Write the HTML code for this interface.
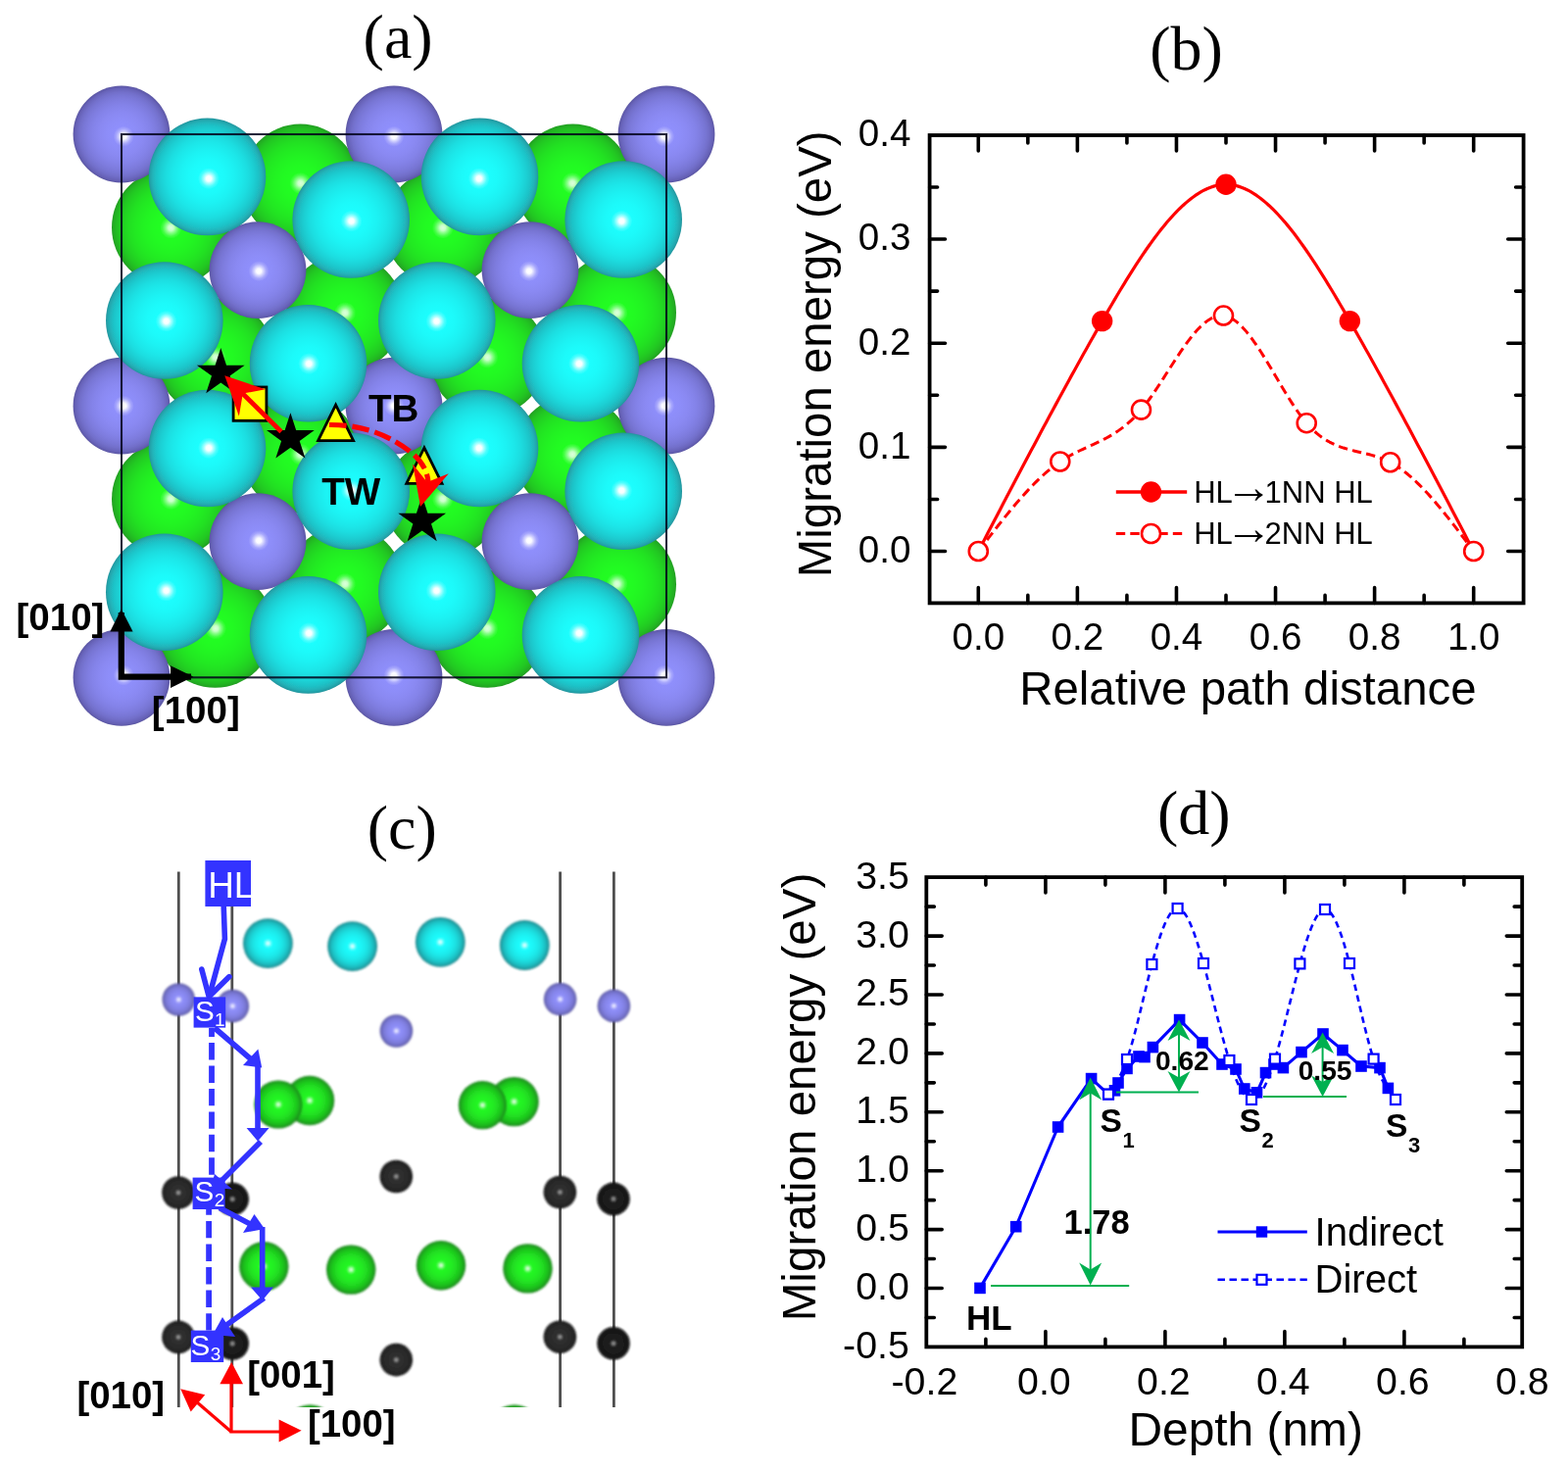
<!DOCTYPE html>
<html lang="en"><head><meta charset="utf-8"><title>Migration paths and energies</title>
<style>html,body{margin:0;padding:0;background:#fff}svg{display:block}text{font-family:"Liberation Sans", sans-serif;fill:#000}.serif{font-family:"Liberation Serif", serif}.b{font-weight:bold}</style></head><body>
<svg width="1600" height="1500" viewBox="0 0 1600 1500" role="img" aria-label="Four-panel figure: migration paths and migration energies">
<defs><radialGradient id="gC" cx="0.5" cy="0.5" r="0.5" fx="0.5" fy="0.5"><stop offset="0" stop-color="rgb(28,255,255)"/><stop offset="0.15" stop-color="rgb(28,254,254)"/><stop offset="0.3" stop-color="rgb(28,250,250)"/><stop offset="0.45" stop-color="rgb(29,242,243)"/><stop offset="0.6" stop-color="rgb(29,231,233)"/><stop offset="0.7" stop-color="rgb(30,221,224)"/><stop offset="0.8" stop-color="rgb(30,207,211)"/><stop offset="0.87" stop-color="rgb(31,195,200)"/><stop offset="0.93" stop-color="rgb(32,180,186)"/><stop offset="0.97" stop-color="rgb(33,165,172)"/><stop offset="1" stop-color="rgb(33,148,157)"/></radialGradient><radialGradient id="gG" cx="0.5" cy="0.5" r="0.5" fx="0.5" fy="0.5"><stop offset="0" stop-color="rgb(36,255,36)"/><stop offset="0.15" stop-color="rgb(36,254,36)"/><stop offset="0.3" stop-color="rgb(36,250,36)"/><stop offset="0.45" stop-color="rgb(36,243,36)"/><stop offset="0.6" stop-color="rgb(36,233,36)"/><stop offset="0.7" stop-color="rgb(36,224,36)"/><stop offset="0.8" stop-color="rgb(36,211,36)"/><stop offset="0.87" stop-color="rgb(36,200,36)"/><stop offset="0.93" stop-color="rgb(36,186,36)"/><stop offset="0.97" stop-color="rgb(36,172,36)"/><stop offset="1" stop-color="rgb(36,157,36)"/></radialGradient><radialGradient id="gP" cx="0.5" cy="0.5" r="0.5" fx="0.5" fy="0.5"><stop offset="0" stop-color="rgb(144,144,253)"/><stop offset="0.15" stop-color="rgb(143,143,252)"/><stop offset="0.3" stop-color="rgb(141,141,248)"/><stop offset="0.45" stop-color="rgb(138,137,242)"/><stop offset="0.6" stop-color="rgb(132,131,233)"/><stop offset="0.7" stop-color="rgb(127,125,224)"/><stop offset="0.8" stop-color="rgb(120,118,213)"/><stop offset="0.87" stop-color="rgb(114,111,202)"/><stop offset="0.93" stop-color="rgb(106,102,189)"/><stop offset="0.97" stop-color="rgb(99,94,177)"/><stop offset="1" stop-color="rgb(90,85,162)"/></radialGradient><radialGradient id="hW" cx="0.5" cy="0.5" r="0.5"><stop offset="0" stop-color="#fff" stop-opacity="1"/><stop offset="0.24" stop-color="#fff" stop-opacity="0.96"/><stop offset="0.45" stop-color="#fff" stop-opacity="0.62"/><stop offset="0.72" stop-color="#fff" stop-opacity="0.22"/><stop offset="1" stop-color="#fff" stop-opacity="0"/></radialGradient><radialGradient id="hG" cx="0.5" cy="0.5" r="0.5"><stop offset="0" stop-color="#e6ffe6" stop-opacity="0.95"/><stop offset="0.25" stop-color="#e6ffe6" stop-opacity="0.85"/><stop offset="0.5" stop-color="#e6ffe6" stop-opacity="0.5"/><stop offset="0.78" stop-color="#e6ffe6" stop-opacity="0.16"/><stop offset="1" stop-color="#e6ffe6" stop-opacity="0"/></radialGradient><radialGradient id="cC" cx="0.5" cy="0.5" r="0.5" fx="0.5" fy="0.5"><stop offset="0" stop-color="rgb(255,255,255)"/><stop offset="0.04" stop-color="rgb(228,255,255)"/><stop offset="0.07" stop-color="rgb(141,255,255)"/><stop offset="0.18" stop-color="rgb(28,253,253)"/><stop offset="0.3" stop-color="rgb(28,248,249)"/><stop offset="0.45" stop-color="rgb(28,239,240)"/><stop offset="0.6" stop-color="rgb(28,226,227)"/><stop offset="0.7" stop-color="rgb(27,213,215)"/><stop offset="0.8" stop-color="rgb(27,196,199)"/><stop offset="0.87" stop-color="rgb(27,180,184)"/><stop offset="0.93" stop-color="rgb(27,162,166)"/><stop offset="0.97" stop-color="rgb(26,144,148)"/><stop offset="1" stop-color="rgb(26,123,128)"/></radialGradient><radialGradient id="cG" cx="0.5" cy="0.5" r="0.5" fx="0.5" fy="0.5"><stop offset="0" stop-color="rgb(255,255,255)"/><stop offset="0.04" stop-color="rgb(228,254,228)"/><stop offset="0.07" stop-color="rgb(144,252,144)"/><stop offset="0.18" stop-color="rgb(34,248,34)"/><stop offset="0.3" stop-color="rgb(34,243,34)"/><stop offset="0.45" stop-color="rgb(33,235,33)"/><stop offset="0.6" stop-color="rgb(32,221,32)"/><stop offset="0.7" stop-color="rgb(31,209,31)"/><stop offset="0.8" stop-color="rgb(30,192,30)"/><stop offset="0.87" stop-color="rgb(29,177,29)"/><stop offset="0.93" stop-color="rgb(28,159,28)"/><stop offset="0.97" stop-color="rgb(26,141,26)"/><stop offset="1" stop-color="rgb(25,120,25)"/></radialGradient><radialGradient id="cP" cx="0.5" cy="0.5" r="0.5" fx="0.5" fy="0.5"><stop offset="0" stop-color="rgb(255,255,255)"/><stop offset="0.05" stop-color="rgb(242,242,255)"/><stop offset="0.1" stop-color="rgb(199,199,253)"/><stop offset="0.24" stop-color="rgb(142,142,249)"/><stop offset="0.3" stop-color="rgb(141,141,247)"/><stop offset="0.45" stop-color="rgb(137,137,240)"/><stop offset="0.6" stop-color="rgb(131,130,230)"/><stop offset="0.7" stop-color="rgb(126,125,221)"/><stop offset="0.8" stop-color="rgb(118,117,208)"/><stop offset="0.87" stop-color="rgb(112,110,196)"/><stop offset="0.93" stop-color="rgb(104,101,182)"/><stop offset="0.97" stop-color="rgb(96,93,169)"/><stop offset="1" stop-color="rgb(86,83,153)"/></radialGradient><radialGradient id="cK" cx="0.5" cy="0.5" r="0.5" fx="0.5" fy="0.5"><stop offset="0" stop-color="rgb(190,190,190)"/><stop offset="0.04" stop-color="rgb(173,173,173)"/><stop offset="0.08" stop-color="rgb(119,119,119)"/><stop offset="0.2" stop-color="rgb(47,47,47)"/><stop offset="0.3" stop-color="rgb(47,47,47)"/><stop offset="0.45" stop-color="rgb(45,45,45)"/><stop offset="0.6" stop-color="rgb(43,43,43)"/><stop offset="0.7" stop-color="rgb(41,41,41)"/><stop offset="0.8" stop-color="rgb(38,38,38)"/><stop offset="0.87" stop-color="rgb(35,35,35)"/><stop offset="0.93" stop-color="rgb(32,32,32)"/><stop offset="0.97" stop-color="rgb(28,28,28)"/><stop offset="1" stop-color="rgb(25,25,25)"/></radialGradient><radialGradient id="cK2" cx="0.5" cy="0.5" r="0.5" fx="0.5" fy="0.5"><stop offset="0" stop-color="rgb(190,190,190)"/><stop offset="0.04" stop-color="rgb(171,171,171)"/><stop offset="0.08" stop-color="rgb(110,110,110)"/><stop offset="0.2" stop-color="rgb(30,30,30)"/><stop offset="0.3" stop-color="rgb(29,29,29)"/><stop offset="0.45" stop-color="rgb(28,28,28)"/><stop offset="0.6" stop-color="rgb(26,26,26)"/><stop offset="0.7" stop-color="rgb(25,25,25)"/><stop offset="0.8" stop-color="rgb(23,23,23)"/><stop offset="0.87" stop-color="rgb(21,21,21)"/><stop offset="0.93" stop-color="rgb(19,19,19)"/><stop offset="0.97" stop-color="rgb(16,16,16)"/><stop offset="1" stop-color="rgb(14,14,14)"/></radialGradient>
<clipPath id="clipC"><rect x="100" y="880" width="600" height="556"/></clipPath>
<filter id="soft" x="-5%" y="-5%" width="110%" height="110%"><feGaussianBlur stdDeviation="0.6"/></filter>
<filter id="softC" x="-5%" y="-5%" width="110%" height="110%"><feGaussianBlur stdDeviation="0.9"/></filter>
</defs>
<rect x="0" y="0" width="1600" height="1500" fill="#fff"/>
<text class="serif" x="406.1" y="58.95" font-size="64" text-anchor="middle">(a)</text>
<text class="serif" x="1210.6" y="71.2" font-size="64" text-anchor="middle">(b)</text>
<text class="serif" x="410.3" y="865.95" font-size="64" text-anchor="middle">(c)</text>
<text class="serif" x="1218.3" y="850.95" font-size="64" text-anchor="middle">(d)</text>
<g id="panel-a">
<g filter="url(#soft)">
<circle cx="174" cy="232.07" r="60" fill="url(#gG)"/>
<circle cx="174.46" cy="232.44" r="11" fill="url(#hG)"/>
<circle cx="306.5" cy="186.57" r="60" fill="url(#gG)"/>
<circle cx="306.69" cy="187.03" r="11" fill="url(#hG)"/>
<circle cx="352" cy="319.07" r="60" fill="url(#gG)"/>
<circle cx="352.1" cy="319.26" r="11" fill="url(#hG)"/>
<circle cx="219.5" cy="364.57" r="60" fill="url(#gG)"/>
<circle cx="219.87" cy="364.67" r="11" fill="url(#hG)"/>
<circle cx="452" cy="232.07" r="60" fill="url(#gG)"/>
<circle cx="451.9" cy="232.44" r="11" fill="url(#hG)"/>
<circle cx="584.5" cy="186.57" r="60" fill="url(#gG)"/>
<circle cx="584.13" cy="187.03" r="11" fill="url(#hG)"/>
<circle cx="630" cy="319.07" r="60" fill="url(#gG)"/>
<circle cx="629.54" cy="319.26" r="11" fill="url(#hG)"/>
<circle cx="497.5" cy="364.57" r="60" fill="url(#gG)"/>
<circle cx="497.31" cy="364.67" r="11" fill="url(#hG)"/>
<circle cx="174" cy="509.22" r="60" fill="url(#gG)"/>
<circle cx="174.46" cy="509.03" r="11" fill="url(#hG)"/>
<circle cx="306.5" cy="463.72" r="60" fill="url(#gG)"/>
<circle cx="306.69" cy="463.63" r="11" fill="url(#hG)"/>
<circle cx="352" cy="596.22" r="60" fill="url(#gG)"/>
<circle cx="352.1" cy="595.86" r="11" fill="url(#hG)"/>
<circle cx="219.5" cy="641.72" r="60" fill="url(#gG)"/>
<circle cx="219.87" cy="641.27" r="11" fill="url(#hG)"/>
<circle cx="452" cy="509.22" r="60" fill="url(#gG)"/>
<circle cx="451.9" cy="509.03" r="11" fill="url(#hG)"/>
<circle cx="584.5" cy="463.72" r="60" fill="url(#gG)"/>
<circle cx="584.13" cy="463.63" r="11" fill="url(#hG)"/>
<circle cx="630" cy="596.22" r="60" fill="url(#gG)"/>
<circle cx="629.54" cy="595.86" r="11" fill="url(#hG)"/>
<circle cx="497.5" cy="641.72" r="60" fill="url(#gG)"/>
<circle cx="497.31" cy="641.27" r="11" fill="url(#hG)"/>
<circle cx="124" cy="137" r="49.4" fill="url(#gP)"/>
<circle cx="126.22" cy="139.22" r="10.5" fill="url(#hW)"/>
<circle cx="402" cy="137" r="49.4" fill="url(#gP)"/>
<circle cx="402" cy="139.22" r="10.5" fill="url(#hW)"/>
<circle cx="680" cy="137" r="49.4" fill="url(#gP)"/>
<circle cx="677.78" cy="139.22" r="10.5" fill="url(#hW)"/>
<circle cx="124" cy="414.15" r="49.4" fill="url(#gP)"/>
<circle cx="126.22" cy="414.15" r="10.5" fill="url(#hW)"/>
<circle cx="402" cy="414.15" r="49.4" fill="url(#gP)"/>
<circle cx="402" cy="414.15" r="10.5" fill="url(#hW)"/>
<circle cx="680" cy="414.15" r="49.4" fill="url(#gP)"/>
<circle cx="677.78" cy="414.15" r="10.5" fill="url(#hW)"/>
<circle cx="124" cy="691.3" r="49.4" fill="url(#gP)"/>
<circle cx="126.22" cy="689.08" r="10.5" fill="url(#hW)"/>
<circle cx="402" cy="691.3" r="49.4" fill="url(#gP)"/>
<circle cx="402" cy="689.08" r="10.5" fill="url(#hW)"/>
<circle cx="680" cy="691.3" r="49.4" fill="url(#gP)"/>
<circle cx="677.78" cy="689.08" r="10.5" fill="url(#hW)"/>
<circle cx="263" cy="275.57" r="49.4" fill="url(#gP)"/>
<circle cx="264.11" cy="276.68" r="10.5" fill="url(#hW)"/>
<circle cx="541" cy="275.57" r="49.4" fill="url(#gP)"/>
<circle cx="539.89" cy="276.68" r="10.5" fill="url(#hW)"/>
<circle cx="263" cy="552.72" r="49.4" fill="url(#gP)"/>
<circle cx="264.11" cy="551.62" r="10.5" fill="url(#hW)"/>
<circle cx="541" cy="552.72" r="49.4" fill="url(#gP)"/>
<circle cx="539.89" cy="551.62" r="10.5" fill="url(#hW)"/>
<circle cx="358.2" cy="224.07" r="59.8" fill="url(#gC)"/>
<circle cx="358.55" cy="225.59" r="11" fill="url(#hW)"/>
<circle cx="314.5" cy="370.77" r="59.8" fill="url(#gC)"/>
<circle cx="315.2" cy="371.12" r="11" fill="url(#hW)"/>
<circle cx="167.8" cy="327.07" r="59.8" fill="url(#gC)"/>
<circle cx="169.67" cy="327.77" r="11" fill="url(#hW)"/>
<circle cx="211.5" cy="180.38" r="59.8" fill="url(#gC)"/>
<circle cx="213.02" cy="182.24" r="11" fill="url(#hW)"/>
<circle cx="636.2" cy="224.07" r="59.8" fill="url(#gC)"/>
<circle cx="634.33" cy="225.59" r="11" fill="url(#hW)"/>
<circle cx="592.5" cy="370.77" r="59.8" fill="url(#gC)"/>
<circle cx="590.98" cy="371.12" r="11" fill="url(#hW)"/>
<circle cx="445.8" cy="327.07" r="59.8" fill="url(#gC)"/>
<circle cx="445.45" cy="327.77" r="11" fill="url(#hW)"/>
<circle cx="489.5" cy="180.38" r="59.8" fill="url(#gC)"/>
<circle cx="488.8" cy="182.24" r="11" fill="url(#hW)"/>
<circle cx="358.2" cy="501.22" r="59.8" fill="url(#gC)"/>
<circle cx="358.55" cy="500.53" r="11" fill="url(#hW)"/>
<circle cx="314.5" cy="647.92" r="59.8" fill="url(#gC)"/>
<circle cx="315.2" cy="646.05" r="11" fill="url(#hW)"/>
<circle cx="167.8" cy="604.22" r="59.8" fill="url(#gC)"/>
<circle cx="169.67" cy="602.7" r="11" fill="url(#hW)"/>
<circle cx="211.5" cy="457.52" r="59.8" fill="url(#gC)"/>
<circle cx="213.02" cy="457.18" r="11" fill="url(#hW)"/>
<circle cx="636.2" cy="501.22" r="59.8" fill="url(#gC)"/>
<circle cx="634.33" cy="500.53" r="11" fill="url(#hW)"/>
<circle cx="592.5" cy="647.92" r="59.8" fill="url(#gC)"/>
<circle cx="590.98" cy="646.05" r="11" fill="url(#hW)"/>
<circle cx="445.8" cy="604.22" r="59.8" fill="url(#gC)"/>
<circle cx="445.45" cy="602.7" r="11" fill="url(#hW)"/>
<circle cx="489.5" cy="457.52" r="59.8" fill="url(#gC)"/>
<circle cx="488.8" cy="457.18" r="11" fill="url(#hW)"/>
</g>
<rect x="124" y="137" width="556" height="554.3" fill="none" stroke="#02021a" stroke-opacity="0.86" stroke-width="2.1"/>
<rect x="238.1" y="395" width="33.8" height="34.3" fill="#ffff00" stroke="#000" stroke-width="2.8"/>
<polygon points="342.6,413.2 324.6,449.6 360.6,449.6" fill="#ffff00" stroke="#000" stroke-width="2.8" stroke-linejoin="miter"/>
<polygon points="432.9,457 414.8,493.3 451,493.3" fill="#ffff00" stroke="#000" stroke-width="2.8" stroke-linejoin="miter"/>
<polygon points="225.3,355 231.05,372.69 249.65,372.69 234.6,383.62 240.35,401.31 225.3,390.38 210.25,401.31 216,383.62 200.95,372.69 219.55,372.69" fill="#000"/>
<polygon points="296.4,421.3 302.15,438.99 320.75,438.99 305.7,449.92 311.45,467.61 296.4,456.68 281.35,467.61 287.1,449.92 272.05,438.99 290.65,438.99" fill="#000"/>
<polygon points="430.7,506 436.45,523.69 455.05,523.69 440,534.62 445.75,552.31 430.7,541.38 415.65,552.31 421.4,534.62 406.35,523.69 424.95,523.69" fill="#000"/>
<line x1="287" y1="440.5" x2="247" y2="401" stroke="#ff0000" stroke-width="4.8"/>
<polygon points="229.3,383.3 270.93,397.36 247.8,401.57 243.87,424.75" fill="#ff0000"/>
<path d="M336,433.5 C372,433 400,446 420,462 C430,470 436,480 437,492" fill="none" stroke="#ff0000" stroke-width="5.2" stroke-dasharray="17.5 6"/>
<polygon points="429,517 421.14,473.42 435.81,491.91 457.81,483.37" fill="#ff0000"/>
<text class="b" x="376" y="430.4" font-size="38.6">TB</text>
<text class="b" x="328.3" y="515.4" font-size="38.6">TW</text>
<path d="M123.8,625 V690.6 H195" fill="none" stroke="#000" stroke-width="6.2" stroke-linejoin="miter"/>
<polygon points="123.8,621.5 112.3,644.5 135.6,644.5" fill="#000"/>
<polygon points="197.2,690.6 174,679.3 174,702" fill="#000"/>
<text class="b" x="16.4" y="642.8" font-size="38.6">[010]</text>
<text class="b" x="154.8" y="738.4" font-size="38.6">[100]</text>
</g>
<g id="panel-b">
<rect x="948.6" y="138" width="606" height="477.4" fill="none" stroke="#000" stroke-width="3.8"/>
<path d="M998.3,615.4 v-15.9 M998.3,138 v15.9 M1099.38,615.4 v-15.9 M1099.38,138 v15.9 M1200.46,615.4 v-15.9 M1200.46,138 v15.9 M1301.54,615.4 v-15.9 M1301.54,138 v15.9 M1402.62,615.4 v-15.9 M1402.62,138 v15.9 M1503.7,615.4 v-15.9 M1503.7,138 v15.9 M1048.84,615.4 v-8 M1048.84,138 v8 M1149.92,615.4 v-8 M1149.92,138 v8 M1251,615.4 v-8 M1251,138 v8 M1352.08,615.4 v-8 M1352.08,138 v8 M1453.16,615.4 v-8 M1453.16,138 v8 M948.6,562.5 h15.9 M1554.6,562.5 h-15.9 M948.6,456.35 h15.9 M1554.6,456.35 h-15.9 M948.6,350.2 h15.9 M1554.6,350.2 h-15.9 M948.6,244.05 h15.9 M1554.6,244.05 h-15.9 M948.6,509.43 h8 M1554.6,509.43 h-8 M948.6,403.27 h8 M1554.6,403.27 h-8 M948.6,297.12 h8 M1554.6,297.12 h-8 M948.6,190.98 h8 M1554.6,190.98 h-8" fill="none" stroke="#000" stroke-width="3.6" stroke-linecap="round"/>
<text x="998.3" y="663.1" font-size="38.6" text-anchor="middle">0.0</text>
<text x="1099.38" y="663.1" font-size="38.6" text-anchor="middle">0.2</text>
<text x="1200.46" y="663.1" font-size="38.6" text-anchor="middle">0.4</text>
<text x="1301.54" y="663.1" font-size="38.6" text-anchor="middle">0.6</text>
<text x="1402.62" y="663.1" font-size="38.6" text-anchor="middle">0.8</text>
<text x="1503.7" y="663.1" font-size="38.6" text-anchor="middle">1.0</text>
<text x="929.5" y="573.8" font-size="38.6" text-anchor="end">0.0</text>
<text x="929.5" y="467.65" font-size="38.6" text-anchor="end">0.1</text>
<text x="929.5" y="361.5" font-size="38.6" text-anchor="end">0.2</text>
<text x="929.5" y="255.35" font-size="38.6" text-anchor="end">0.3</text>
<text x="929.5" y="149.2" font-size="38.6" text-anchor="end">0.4</text>
<text x="1273.4" y="718.7" font-size="47.4" text-anchor="middle">Relative path distance</text>
<text transform="translate(848.2,361.3) rotate(-90)" font-size="47.4" text-anchor="middle">Migration energy (eV)</text>
<path d="M998.3,562.5 L1001.46,556.44 L1004.62,550.39 L1007.78,544.33 L1010.93,538.28 L1014.09,532.23 L1017.25,526.18 L1020.41,520.14 L1023.57,514.1 L1026.73,508.07 L1029.89,502.04 L1033.05,496.02 L1036.2,490.01 L1039.36,484.01 L1042.52,478.01 L1045.68,472.03 L1048.84,466.05 L1052,460.09 L1055.16,454.14 L1058.32,448.2 L1061.47,442.28 L1064.63,436.36 L1067.79,430.47 L1070.95,424.58 L1074.11,418.72 L1077.27,412.87 L1080.43,407.04 L1083.59,401.22 L1086.74,395.43 L1089.9,389.65 L1093.06,383.89 L1096.22,378.16 L1099.38,372.45 L1102.54,366.75 L1105.7,361.08 L1108.86,355.44 L1112.01,349.82 L1115.17,344.22 L1118.33,338.65 L1121.49,333.11 L1124.65,327.59 L1127.81,322.1 L1130.97,316.65 L1134.13,311.23 L1137.28,305.86 L1140.44,300.53 L1143.6,295.27 L1146.76,290.06 L1149.92,284.92 L1153.08,279.85 L1156.24,274.86 L1159.4,269.95 L1162.55,265.12 L1165.71,260.4 L1168.87,255.77 L1172.03,251.24 L1175.19,246.83 L1178.35,242.53 L1181.51,238.35 L1184.67,234.3 L1187.82,230.39 L1190.98,226.6 L1194.14,222.97 L1197.3,219.48 L1200.46,216.14 L1203.62,212.97 L1206.78,209.96 L1209.94,207.12 L1213.1,204.45 L1216.25,201.97 L1219.41,199.67 L1222.57,197.57 L1225.73,195.67 L1228.89,193.96 L1232.05,192.47 L1235.21,191.19 L1238.37,190.14 L1241.52,189.3 L1244.68,188.7 L1247.84,188.34 L1251,188.22 L1254.16,188.34 L1257.32,188.7 L1260.48,189.3 L1263.63,190.14 L1266.79,191.19 L1269.95,192.47 L1273.11,193.96 L1276.27,195.67 L1279.43,197.57 L1282.59,199.67 L1285.75,201.97 L1288.9,204.45 L1292.06,207.12 L1295.22,209.96 L1298.38,212.97 L1301.54,216.14 L1304.7,219.48 L1307.86,222.97 L1311.02,226.6 L1314.17,230.39 L1317.33,234.3 L1320.49,238.35 L1323.65,242.53 L1326.81,246.83 L1329.97,251.24 L1333.13,255.77 L1336.29,260.4 L1339.44,265.12 L1342.6,269.95 L1345.76,274.86 L1348.92,279.85 L1352.08,284.92 L1355.24,290.06 L1358.4,295.27 L1361.56,300.53 L1364.71,305.86 L1367.87,311.23 L1371.03,316.65 L1374.19,322.1 L1377.35,327.59 L1380.51,333.11 L1383.67,338.65 L1386.83,344.22 L1389.98,349.82 L1393.14,355.44 L1396.3,361.08 L1399.46,366.75 L1402.62,372.45 L1405.78,378.16 L1408.94,383.89 L1412.1,389.65 L1415.25,395.43 L1418.41,401.22 L1421.57,407.04 L1424.73,412.87 L1427.89,418.72 L1431.05,424.58 L1434.21,430.47 L1437.37,436.36 L1440.52,442.28 L1443.68,448.2 L1446.84,454.14 L1450,460.09 L1453.16,466.05 L1456.32,472.03 L1459.48,478.01 L1462.64,484.01 L1465.8,490.01 L1468.95,496.02 L1472.11,502.04 L1475.27,508.07 L1478.43,514.1 L1481.59,520.14 L1484.75,526.18 L1487.91,532.23 L1491.07,538.28 L1494.22,544.33 L1497.38,550.39 L1500.54,556.44 L1503.7,562.5" fill="none" stroke="#ff0000" stroke-width="3.2" stroke-linejoin="round"/>
<path d="M998.3,562.5 L1000.39,559.77 L1002.47,557.05 L1004.56,554.33 L1006.65,551.61 L1008.74,548.9 L1010.82,546.2 L1012.91,543.51 L1015,540.83 L1017.09,538.16 L1019.17,535.51 L1021.26,532.87 L1023.35,530.26 L1025.43,527.66 L1027.52,525.08 L1029.61,522.53 L1031.7,520 L1033.78,517.5 L1035.87,515.02 L1037.96,512.58 L1040.05,510.16 L1042.13,507.78 L1044.22,505.44 L1046.31,503.13 L1048.4,500.86 L1050.48,498.62 L1052.57,496.43 L1054.66,494.28 L1056.74,492.18 L1058.83,490.12 L1060.92,488.11 L1063.01,486.15 L1065.09,484.24 L1067.18,482.38 L1069.27,480.58 L1071.36,478.83 L1073.44,477.15 L1075.53,475.52 L1077.62,473.95 L1079.7,472.44 L1081.79,471 L1083.86,469.63 L1085.93,468.33 L1087.99,467.08 L1090.06,465.88 L1092.13,464.73 L1094.19,463.62 L1096.26,462.55 L1098.33,461.51 L1100.4,460.5 L1102.46,459.51 L1104.53,458.54 L1106.6,457.59 L1108.66,456.64 L1110.73,455.7 L1112.8,454.76 L1114.87,453.82 L1116.93,452.87 L1119,451.9 L1121.07,450.92 L1123.13,449.91 L1125.2,448.88 L1127.27,447.82 L1129.34,446.72 L1131.4,445.58 L1133.47,444.4 L1135.54,443.17 L1137.6,441.88 L1139.67,440.53 L1141.74,439.12 L1143.8,437.64 L1145.87,436.09 L1147.94,434.47 L1150.01,432.76 L1152.07,430.97 L1154.14,429.08 L1156.21,427.1 L1158.27,425.02 L1160.34,422.84 L1162.41,420.54 L1164.48,418.14 L1166.58,415.57 L1168.68,412.9 L1170.78,410.12 L1172.88,407.25 L1174.98,404.29 L1177.08,401.26 L1179.18,398.17 L1181.28,395.02 L1183.37,391.82 L1185.47,388.59 L1187.57,385.33 L1189.67,382.06 L1191.77,378.77 L1193.87,375.49 L1195.97,372.22 L1198.07,368.97 L1200.17,365.76 L1202.27,362.58 L1204.37,359.45 L1206.47,356.38 L1208.57,353.38 L1210.67,350.46 L1212.77,347.62 L1214.87,344.89 L1216.97,342.26 L1219.07,339.74 L1221.17,337.35 L1223.27,335.1 L1225.37,332.99 L1227.47,331.03 L1229.57,329.24 L1231.67,327.63 L1233.77,326.19 L1235.87,324.95 L1237.97,323.91 L1240.07,323.08 L1242.17,322.47 L1244.27,322.1 L1246.37,321.96 L1248.47,322.07 L1250.59,322.44 L1252.71,323.07 L1254.83,323.94 L1256.95,325.04 L1259.07,326.36 L1261.18,327.89 L1263.3,329.63 L1265.42,331.56 L1267.54,333.66 L1269.66,335.94 L1271.78,338.38 L1273.89,340.96 L1276.01,343.69 L1278.13,346.54 L1280.25,349.51 L1282.37,352.59 L1284.49,355.77 L1286.61,359.03 L1288.72,362.37 L1290.84,365.78 L1292.96,369.24 L1295.08,372.74 L1297.2,376.28 L1299.32,379.85 L1301.43,383.43 L1303.55,387.01 L1305.67,390.59 L1307.79,394.15 L1309.91,397.68 L1312.03,401.17 L1314.15,404.61 L1316.26,408 L1318.38,411.32 L1320.5,414.55 L1322.62,417.7 L1324.74,420.75 L1326.86,423.68 L1328.97,426.5 L1331.09,429.18 L1333.21,431.72 L1335.35,434.13 L1337.49,436.4 L1339.62,438.52 L1341.76,440.5 L1343.9,442.35 L1346.03,444.08 L1348.17,445.69 L1350.31,447.18 L1352.44,448.57 L1354.58,449.86 L1356.72,451.05 L1358.86,452.16 L1360.99,453.18 L1363.13,454.13 L1365.27,455 L1367.4,455.81 L1369.54,456.57 L1371.68,457.27 L1373.81,457.92 L1375.95,458.54 L1378.09,459.12 L1380.23,459.67 L1382.36,460.2 L1384.5,460.72 L1386.64,461.22 L1388.77,461.72 L1390.91,462.23 L1393.05,462.74 L1395.18,463.27 L1397.32,463.81 L1399.46,464.39 L1401.6,464.99 L1403.73,465.64 L1405.87,466.33 L1408.01,467.07 L1410.14,467.86 L1412.28,468.72 L1414.42,469.65 L1416.55,470.66 L1418.69,471.74 L1420.82,472.91 L1422.94,474.15 L1425.07,475.48 L1427.19,476.89 L1429.32,478.38 L1431.44,479.94 L1433.57,481.57 L1435.69,483.28 L1437.82,485.06 L1439.94,486.9 L1442.07,488.8 L1444.19,490.77 L1446.32,492.8 L1448.44,494.89 L1450.57,497.03 L1452.7,499.23 L1454.82,501.48 L1456.95,503.78 L1459.07,506.12 L1461.2,508.51 L1463.32,510.94 L1465.45,513.42 L1467.57,515.93 L1469.7,518.48 L1471.82,521.07 L1473.95,523.68 L1476.07,526.33 L1478.2,529 L1480.32,531.71 L1482.45,534.43 L1484.57,537.17 L1486.7,539.94 L1488.82,542.72 L1490.95,545.52 L1493.07,548.33 L1495.2,551.15 L1497.32,553.98 L1499.45,556.82 L1501.57,559.66 L1503.7,562.5" fill="none" stroke="#ff0000" stroke-width="3" stroke-dasharray="9.4 5.1" stroke-linejoin="round"/>
<circle cx="1124.65" cy="327.59" r="10.7" fill="#ff0000"/>
<circle cx="1251" cy="188.22" r="10.7" fill="#ff0000"/>
<circle cx="1377.35" cy="327.59" r="10.7" fill="#ff0000"/>
<circle cx="998.3" cy="562.5" r="9.5" fill="#fff" stroke="#ff0000" stroke-width="2.6"/>
<circle cx="1081.79" cy="471" r="9.5" fill="#fff" stroke="#ff0000" stroke-width="2.6"/>
<circle cx="1164.48" cy="418.14" r="9.5" fill="#fff" stroke="#ff0000" stroke-width="2.6"/>
<circle cx="1248.47" cy="322.07" r="9.5" fill="#fff" stroke="#ff0000" stroke-width="2.6"/>
<circle cx="1333.21" cy="431.72" r="9.5" fill="#fff" stroke="#ff0000" stroke-width="2.6"/>
<circle cx="1418.69" cy="471.74" r="9.5" fill="#fff" stroke="#ff0000" stroke-width="2.6"/>
<circle cx="1503.7" cy="562.5" r="9.5" fill="#fff" stroke="#ff0000" stroke-width="2.6"/>
<line x1="1138.8" y1="502" x2="1211.2" y2="502" stroke="#ff0000" stroke-width="3.4"/>
<circle cx="1174.5" cy="502" r="10.7" fill="#ff0000"/>
<line x1="1138.8" y1="544.5" x2="1206.5" y2="544.5" stroke="#ff0000" stroke-width="3" stroke-dasharray="9.4 5.1"/>
<circle cx="1174.5" cy="544.5" r="9.5" fill="#fff" stroke="#ff0000" stroke-width="2.6"/>
<text y="512.7" font-size="31"><tspan x="1218.2">HL</tspan><tspan x="1250.3" font-size="48">→</tspan><tspan x="1290.6">1NN HL</tspan></text>
<text y="555.2" font-size="31"><tspan x="1218.2">HL</tspan><tspan x="1250.3" font-size="48">→</tspan><tspan x="1290.6">2NN HL</tspan></text>
</g>
<g id="panel-c">
<g clip-path="url(#clipC)">
<g filter="url(#soft)">
<line x1="182.3" y1="889.5" x2="182.3" y2="1440" stroke="#505050" stroke-width="2.8"/>
<line x1="236.8" y1="889.5" x2="236.8" y2="1440" stroke="#505050" stroke-width="2.8"/>
<line x1="571.6" y1="889.5" x2="571.6" y2="1440" stroke="#505050" stroke-width="2.8"/>
<line x1="626.4" y1="889.5" x2="626.4" y2="1440" stroke="#505050" stroke-width="2.8"/>
</g>
<g filter="url(#softC)">
<circle cx="273.4" cy="962.6" r="25.4" fill="url(#cC)"/>
<circle cx="359.6" cy="965.6" r="25.4" fill="url(#cC)"/>
<circle cx="449.3" cy="961.3" r="25.4" fill="url(#cC)"/>
<circle cx="535.3" cy="964.5" r="25.4" fill="url(#cC)"/>
<circle cx="182.3" cy="1020" r="16.8" fill="url(#cP)"/>
<circle cx="237.4" cy="1026.6" r="16.8" fill="url(#cP)"/>
<circle cx="404.4" cy="1052" r="16.8" fill="url(#cP)"/>
<circle cx="571.6" cy="1019.6" r="16.8" fill="url(#cP)"/>
<circle cx="626.4" cy="1026.4" r="16.8" fill="url(#cP)"/>
<circle cx="316" cy="1123" r="25.2" fill="url(#cG)"/>
<circle cx="524.6" cy="1124.1" r="25.2" fill="url(#cG)"/>
<circle cx="284" cy="1127" r="24.6" fill="url(#cG)"/>
<circle cx="492.4" cy="1127.7" r="24.6" fill="url(#cG)"/>
<circle cx="182" cy="1217" r="16.8" fill="url(#cK)"/>
<circle cx="571.4" cy="1216.5" r="16.8" fill="url(#cK)"/>
<circle cx="404.3" cy="1200.5" r="16.8" fill="url(#cK)"/>
<circle cx="182" cy="1364.4" r="16.8" fill="url(#cK)"/>
<circle cx="571.4" cy="1364.2" r="16.8" fill="url(#cK)"/>
<circle cx="404.3" cy="1387.6" r="16.8" fill="url(#cK)"/>
<circle cx="237.2" cy="1223.6" r="16.8" fill="url(#cK2)"/>
<circle cx="626" cy="1223.4" r="16.8" fill="url(#cK2)"/>
<circle cx="237.2" cy="1371" r="16.8" fill="url(#cK2)"/>
<circle cx="626" cy="1370.8" r="16.8" fill="url(#cK2)"/>
<circle cx="269.3" cy="1292.3" r="25.2" fill="url(#cG)"/>
<circle cx="358.2" cy="1295.6" r="25.2" fill="url(#cG)"/>
<circle cx="450" cy="1291.2" r="25.2" fill="url(#cG)"/>
<circle cx="538.5" cy="1294.4" r="25.2" fill="url(#cG)"/>
<circle cx="316.5" cy="1458.6" r="25.2" fill="url(#cG)"/>
<circle cx="525" cy="1458.6" r="25.2" fill="url(#cG)"/>
</g></g>
<rect x="209.4" y="878" width="46.6" height="47" fill="#3333ff"/>
<text x="212.2" y="916.4" font-size="36.2" style="fill:#fff" textLength="47.2" lengthAdjust="spacingAndGlyphs">HL</text>
<path d="M228.2,924 L229.4,958 L214.5,1013" fill="none" stroke="#3333ff" stroke-width="5.6" stroke-linejoin="round"/>
<path d="M205.8,989 L213.2,1017 L234,996.6" fill="none" stroke="#3333ff" stroke-width="5.6" stroke-linejoin="miter" stroke-linecap="round"/>
<path d="M216,1049 V1203" fill="none" stroke="#3333ff" stroke-width="5.8" stroke-dasharray="17.4 6.05" stroke-dashoffset="8.4"/>
<path d="M213.1,1233.4 V1359" fill="none" stroke="#3333ff" stroke-width="5.8" stroke-dasharray="17.4 6.15" stroke-dashoffset="11"/>
<path d="M219,1049 L261,1085" fill="none" stroke="#3333ff" stroke-width="5.6"/>
<polygon points="263.4,1070.6 248,1087 267.2,1089.4" fill="#3333ff"/>
<path d="M263,1086 V1153" fill="none" stroke="#3333ff" stroke-width="5.6"/>
<polygon points="251.6,1151 274.6,1151 263,1164.5" fill="#3333ff"/>
<path d="M266,1165 L226,1205" fill="none" stroke="#3333ff" stroke-width="5.6"/>
<polygon points="215,1212 219,1198 237,1213.5" fill="#3333ff"/>
<path d="M224,1232.5 L262,1252.5" fill="none" stroke="#3333ff" stroke-width="5.6"/>
<polygon points="259.5,1239 248,1258 270,1254" fill="#3333ff"/>
<path d="M267.7,1252 V1315" fill="none" stroke="#3333ff" stroke-width="5.6"/>
<polygon points="256,1313.5 279,1313.5 267.7,1327" fill="#3333ff"/>
<path d="M269.5,1324.5 L227,1355" fill="none" stroke="#3333ff" stroke-width="5.6"/>
<polygon points="217,1362 227,1344 240,1364" fill="#3333ff"/>
<rect x="197.6" y="1017.4" width="32.6" height="31.2" fill="#3333ff"/>
<text x="198.9" y="1042.2" font-size="29.6" style="fill:#fff">S<tspan font-size="19" dy="4.6" dx="0.3">1</tspan></text>
<rect x="196.6" y="1201.6" width="33" height="32.4" fill="#3333ff"/>
<text x="198.6" y="1226.4" font-size="29.6" style="fill:#fff">S<tspan font-size="19" dy="4.6" dx="0.3">2</tspan></text>
<rect x="194.8" y="1357.6" width="33.4" height="32.4" fill="#3333ff"/>
<text x="194.6" y="1383.4" font-size="29.6" style="fill:#fff">S<tspan font-size="19" dy="4.6" dx="0.3">3</tspan></text>
<path d="M236,1410 V1461 H286" fill="none" stroke="#ff0000" stroke-width="3.2" stroke-linejoin="miter"/>
<line x1="236" y1="1461" x2="200" y2="1430" stroke="#ff0000" stroke-width="3.2"/>
<polygon points="236.2,1390 224.4,1412.2 248,1412.2" fill="#ff0000"/>
<polygon points="307.6,1459.8 284.6,1448.4 284.6,1471.4" fill="#ff0000"/>
<polygon points="184.2,1417.3 209.2,1423.3 194.7,1440.6" fill="#ff0000"/>
<text class="b" x="78.4" y="1437.4" font-size="38.4">[010]</text>
<text class="b" x="252.2" y="1416.4" font-size="38.4">[001]</text>
<text class="b" x="313.9" y="1465.8" font-size="38.4">[100]</text>
</g>
<g id="panel-d">
<rect x="945.3" y="895.1" width="607.9" height="479.3" fill="none" stroke="#000" stroke-width="3.8"/>
<path d="M1066.9,1374.4 v-15.9 M1066.9,895.1 v15.9 M1188.9,1374.4 v-15.9 M1188.9,895.1 v15.9 M1310.9,1374.4 v-15.9 M1310.9,895.1 v15.9 M1432.9,1374.4 v-15.9 M1432.9,895.1 v15.9 M1005.9,1374.4 v-8 M1005.9,895.1 v8 M1127.9,1374.4 v-8 M1127.9,895.1 v8 M1249.9,1374.4 v-8 M1249.9,895.1 v8 M1371.9,1374.4 v-8 M1371.9,895.1 v8 M1493.9,1374.4 v-8 M1493.9,895.1 v8 M945.3,1314.5 h15.9 M1553.2,1314.5 h-15.9 M945.3,1254.6 h15.9 M1553.2,1254.6 h-15.9 M945.3,1194.7 h15.9 M1553.2,1194.7 h-15.9 M945.3,1134.8 h15.9 M1553.2,1134.8 h-15.9 M945.3,1074.9 h15.9 M1553.2,1074.9 h-15.9 M945.3,1015 h15.9 M1553.2,1015 h-15.9 M945.3,955.1 h15.9 M1553.2,955.1 h-15.9 M945.3,1344.45 h8 M1553.2,1344.45 h-8 M945.3,1284.55 h8 M1553.2,1284.55 h-8 M945.3,1224.65 h8 M1553.2,1224.65 h-8 M945.3,1164.75 h8 M1553.2,1164.75 h-8 M945.3,1104.85 h8 M1553.2,1104.85 h-8 M945.3,1044.95 h8 M1553.2,1044.95 h-8 M945.3,985.05 h8 M1553.2,985.05 h-8 M945.3,925.15 h8 M1553.2,925.15 h-8" fill="none" stroke="#000" stroke-width="3.6" stroke-linecap="round"/>
<text x="943.4" y="1422.5" font-size="39.3" text-anchor="middle">-0.2</text>
<text x="1065.4" y="1422.5" font-size="39.3" text-anchor="middle">0.0</text>
<text x="1187.4" y="1422.5" font-size="39.3" text-anchor="middle">0.2</text>
<text x="1309.4" y="1422.5" font-size="39.3" text-anchor="middle">0.4</text>
<text x="1431.4" y="1422.5" font-size="39.3" text-anchor="middle">0.6</text>
<text x="1553.4" y="1422.5" font-size="39.3" text-anchor="middle">0.8</text>
<text x="927.8" y="1385.8" font-size="39.3" text-anchor="end">-0.5</text>
<text x="927.8" y="1325.9" font-size="39.3" text-anchor="end">0.0</text>
<text x="927.8" y="1266" font-size="39.3" text-anchor="end">0.5</text>
<text x="927.8" y="1206.1" font-size="39.3" text-anchor="end">1.0</text>
<text x="927.8" y="1146.2" font-size="39.3" text-anchor="end">1.5</text>
<text x="927.8" y="1086.3" font-size="39.3" text-anchor="end">2.0</text>
<text x="927.8" y="1026.4" font-size="39.3" text-anchor="end">2.5</text>
<text x="927.8" y="966.5" font-size="39.3" text-anchor="end">3.0</text>
<text x="927.8" y="906.6" font-size="39.3" text-anchor="end">3.5</text>
<text x="1271.2" y="1474.5" font-size="47.9" text-anchor="middle">Depth (nm)</text>
<text transform="translate(832.4,1119.5) rotate(-90)" font-size="47.6" text-anchor="middle">Migration energy (eV)</text>
<path d="M1131,1116.6 L1131.79,1115.5 L1132.58,1114.4 L1133.38,1113.29 L1134.17,1112.17 L1134.96,1111.04 L1135.75,1109.88 L1136.54,1108.7 L1137.33,1107.49 L1138.12,1106.25 L1138.92,1104.97 L1139.71,1103.65 L1140.5,1102.29 L1141.29,1100.87 L1142.08,1099.41 L1142.88,1097.89 L1143.67,1096.31 L1144.46,1094.66 L1145.25,1092.95 L1146.04,1091.16 L1146.83,1089.3 L1147.62,1087.36 L1148.42,1085.33 L1149.21,1083.21 L1150,1081 L1151.06,1077.9 L1152.12,1074.63 L1153.17,1071.22 L1154.23,1067.66 L1155.29,1063.97 L1156.35,1060.17 L1157.41,1056.26 L1158.47,1052.25 L1159.53,1048.16 L1160.58,1043.99 L1161.64,1039.76 L1162.7,1035.48 L1163.76,1031.16 L1164.82,1026.8 L1165.88,1022.43 L1166.93,1018.05 L1167.99,1013.67 L1169.05,1009.3 L1170.11,1004.96 L1171.17,1000.65 L1172.23,996.39 L1173.28,992.19 L1174.34,988.06 L1175.4,984 L1176.49,979.91 L1177.58,975.92 L1178.68,972.05 L1179.77,968.28 L1180.86,964.64 L1181.95,961.13 L1183.04,957.75 L1184.13,954.51 L1185.22,951.42 L1186.32,948.48 L1187.41,945.7 L1188.5,943.09 L1189.59,940.65 L1190.68,938.39 L1191.78,936.31 L1192.87,934.43 L1193.96,932.74 L1195.05,931.26 L1196.14,929.98 L1197.23,928.93 L1198.32,928.09 L1199.42,927.49 L1200.51,927.12 L1201.6,927 L1202.7,927.12 L1203.8,927.49 L1204.9,928.1 L1206,928.94 L1207.1,930 L1208.2,931.28 L1209.3,932.76 L1210.4,934.45 L1211.5,936.33 L1212.6,938.41 L1213.7,940.66 L1214.8,943.08 L1215.9,945.67 L1217,948.41 L1218.1,951.31 L1219.2,954.35 L1220.3,957.53 L1221.4,960.84 L1222.5,964.27 L1223.6,967.82 L1224.7,971.47 L1225.8,975.22 L1226.9,979.07 L1228,983 L1229.1,987.01 L1230.2,991.09 L1231.3,995.23 L1232.4,999.43 L1233.5,1003.67 L1234.6,1007.95 L1235.7,1012.26 L1236.8,1016.59 L1237.9,1020.94 L1239,1025.28 L1240.1,1029.63 L1241.2,1033.96 L1242.3,1038.27 L1243.4,1042.55 L1244.5,1046.8 L1245.6,1051 L1246.7,1055.15 L1247.8,1059.23 L1248.9,1063.25 L1250,1067.19 L1251.1,1071.04 L1252.2,1074.8 L1253.3,1078.46 L1254.4,1082 L1255.34,1084.94 L1256.28,1087.79 L1257.23,1090.55 L1258.17,1093.21 L1259.11,1095.77 L1260.05,1098.23 L1260.99,1100.59 L1261.93,1102.84 L1262.88,1104.98 L1263.82,1107.01 L1264.76,1108.92 L1265.7,1110.72 L1266.64,1112.39 L1267.58,1113.94 L1268.53,1115.36 L1269.47,1116.66 L1270.41,1117.82 L1271.35,1118.84 L1272.29,1119.73 L1273.23,1120.48 L1274.17,1121.08 L1275.12,1121.54 L1276.06,1121.84 L1277,1122 L1278,1122 L1279,1121.82 L1280,1121.48 L1281,1120.97 L1282,1120.3 L1283,1119.46 L1284,1118.48 L1285,1117.33 L1286,1116.04 L1287,1114.6 L1288,1113.02 L1289,1111.29 L1290,1109.42 L1291,1107.42 L1292,1105.29 L1293,1103.02 L1294,1100.63 L1295,1098.12 L1296,1095.48 L1297,1092.73 L1298,1089.86 L1299,1086.88 L1300,1083.79 L1301,1080.6 L1302.06,1077.11 L1303.12,1073.51 L1304.17,1069.81 L1305.23,1066.02 L1306.29,1062.15 L1307.35,1058.2 L1308.41,1054.19 L1309.47,1050.11 L1310.53,1045.99 L1311.58,1041.82 L1312.64,1037.62 L1313.7,1033.38 L1314.76,1029.13 L1315.82,1024.87 L1316.88,1020.61 L1317.93,1016.35 L1318.99,1012.1 L1320.05,1007.88 L1321.11,1003.68 L1322.17,999.52 L1323.23,995.4 L1324.28,991.34 L1325.34,987.33 L1326.4,983.4 L1327.47,979.51 L1328.53,975.71 L1329.6,972 L1330.67,968.39 L1331.73,964.88 L1332.8,961.49 L1333.87,958.22 L1334.93,955.08 L1336,952.07 L1337.07,949.21 L1338.13,946.49 L1339.2,943.93 L1340.27,941.53 L1341.33,939.31 L1342.4,937.26 L1343.47,935.4 L1344.53,933.72 L1345.6,932.25 L1346.67,930.99 L1347.73,929.93 L1348.8,929.1 L1349.87,928.5 L1350.93,928.13 L1352,928 L1353.04,928.11 L1354.08,928.46 L1355.12,929.03 L1356.17,929.82 L1357.21,930.83 L1358.25,932.04 L1359.29,933.46 L1360.33,935.07 L1361.38,936.88 L1362.42,938.87 L1363.46,941.04 L1364.5,943.39 L1365.54,945.9 L1366.58,948.58 L1367.62,951.41 L1368.67,954.39 L1369.71,957.52 L1370.75,960.79 L1371.79,964.19 L1372.83,967.72 L1373.88,971.37 L1374.92,975.14 L1375.96,979.02 L1377,983 L1378.03,987.01 L1379.05,991.11 L1380.08,995.29 L1381.1,999.53 L1382.12,1003.81 L1383.15,1008.14 L1384.17,1012.5 L1385.2,1016.88 L1386.22,1021.27 L1387.25,1025.65 L1388.27,1030.02 L1389.3,1034.37 L1390.33,1038.68 L1391.35,1042.94 L1392.38,1047.15 L1393.4,1051.29 L1394.42,1055.34 L1395.45,1059.31 L1396.47,1063.18 L1397.5,1066.93 L1398.52,1070.56 L1399.55,1074.06 L1400.57,1077.41 L1401.6,1080.6 L1402.53,1083.37 L1403.47,1086 L1404.4,1088.5 L1405.33,1090.89 L1406.27,1093.16 L1407.2,1095.32 L1408.13,1097.37 L1409.07,1099.33 L1410,1101.19 L1410.93,1102.97 L1411.87,1104.67 L1412.8,1106.29 L1413.73,1107.84 L1414.67,1109.33 L1415.6,1110.76 L1416.53,1112.14 L1417.47,1113.48 L1418.4,1114.77 L1419.33,1116.03 L1420.27,1117.26 L1421.2,1118.46 L1422.13,1119.65 L1423.07,1120.83 L1424,1122" fill="none" stroke="#0000ff" stroke-width="2.6" stroke-dasharray="6.6 4.6" stroke-linejoin="round"/>
<path d="M1000,1314.4 L1036.7,1251.7 L1079.6,1150 L1113.6,1100.6 L1131,1116.6 L1137.5,1112.8 L1141,1105 L1150,1090.4 L1162,1078 L1168,1078.6 L1176.4,1068.6 L1203.6,1040.6 L1227,1064 L1247,1086 L1261,1091 L1269.8,1111 L1282.5,1114.8 L1291.5,1094.6 L1300,1086 L1309.4,1089.6 L1328,1073.6 L1350,1055 L1370,1071.6 L1389,1088 L1408,1089.6 L1416.4,1110.4" fill="none" stroke="#0000ff" stroke-width="3.1" stroke-linejoin="round"/>
<rect x="994.2" y="1308.6" width="11.6" height="11.6" fill="#0000ff"/>
<rect x="1030.9" y="1245.9" width="11.6" height="11.6" fill="#0000ff"/>
<rect x="1073.8" y="1144.2" width="11.6" height="11.6" fill="#0000ff"/>
<rect x="1107.8" y="1094.8" width="11.6" height="11.6" fill="#0000ff"/>
<rect x="1125.2" y="1110.8" width="11.6" height="11.6" fill="#0000ff"/>
<rect x="1131.7" y="1107" width="11.6" height="11.6" fill="#0000ff"/>
<rect x="1135.2" y="1099.2" width="11.6" height="11.6" fill="#0000ff"/>
<rect x="1144.2" y="1084.6" width="11.6" height="11.6" fill="#0000ff"/>
<rect x="1156.2" y="1072.2" width="11.6" height="11.6" fill="#0000ff"/>
<rect x="1162.2" y="1072.8" width="11.6" height="11.6" fill="#0000ff"/>
<rect x="1170.6" y="1062.8" width="11.6" height="11.6" fill="#0000ff"/>
<rect x="1197.8" y="1034.8" width="11.6" height="11.6" fill="#0000ff"/>
<rect x="1221.2" y="1058.2" width="11.6" height="11.6" fill="#0000ff"/>
<rect x="1241.2" y="1080.2" width="11.6" height="11.6" fill="#0000ff"/>
<rect x="1255.2" y="1085.2" width="11.6" height="11.6" fill="#0000ff"/>
<rect x="1264" y="1105.2" width="11.6" height="11.6" fill="#0000ff"/>
<rect x="1276.7" y="1109" width="11.6" height="11.6" fill="#0000ff"/>
<rect x="1285.7" y="1088.8" width="11.6" height="11.6" fill="#0000ff"/>
<rect x="1294.2" y="1080.2" width="11.6" height="11.6" fill="#0000ff"/>
<rect x="1303.6" y="1083.8" width="11.6" height="11.6" fill="#0000ff"/>
<rect x="1322.2" y="1067.8" width="11.6" height="11.6" fill="#0000ff"/>
<rect x="1344.2" y="1049.2" width="11.6" height="11.6" fill="#0000ff"/>
<rect x="1364.2" y="1065.8" width="11.6" height="11.6" fill="#0000ff"/>
<rect x="1383.2" y="1082.2" width="11.6" height="11.6" fill="#0000ff"/>
<rect x="1402.2" y="1083.8" width="11.6" height="11.6" fill="#0000ff"/>
<rect x="1410.6" y="1104.6" width="11.6" height="11.6" fill="#0000ff"/>
<rect x="1126" y="1111.6" width="10" height="10" fill="#fff" stroke="#0000ff" stroke-width="2.2"/>
<rect x="1145" y="1076" width="10" height="10" fill="#fff" stroke="#0000ff" stroke-width="2.2"/>
<rect x="1170.4" y="979" width="10" height="10" fill="#fff" stroke="#0000ff" stroke-width="2.2"/>
<rect x="1196.6" y="922" width="10" height="10" fill="#fff" stroke="#0000ff" stroke-width="2.2"/>
<rect x="1223" y="978" width="10" height="10" fill="#fff" stroke="#0000ff" stroke-width="2.2"/>
<rect x="1249.4" y="1077" width="10" height="10" fill="#fff" stroke="#0000ff" stroke-width="2.2"/>
<rect x="1272" y="1117" width="10" height="10" fill="#fff" stroke="#0000ff" stroke-width="2.2"/>
<rect x="1296" y="1075.6" width="10" height="10" fill="#fff" stroke="#0000ff" stroke-width="2.2"/>
<rect x="1321.4" y="978.4" width="10" height="10" fill="#fff" stroke="#0000ff" stroke-width="2.2"/>
<rect x="1347" y="923" width="10" height="10" fill="#fff" stroke="#0000ff" stroke-width="2.2"/>
<rect x="1372" y="978" width="10" height="10" fill="#fff" stroke="#0000ff" stroke-width="2.2"/>
<rect x="1396.6" y="1075.6" width="10" height="10" fill="#fff" stroke="#0000ff" stroke-width="2.2"/>
<rect x="1419" y="1117" width="10" height="10" fill="#fff" stroke="#0000ff" stroke-width="2.2"/>
<line x1="1011" y1="1312" x2="1152.2" y2="1312" stroke="#00b050" stroke-width="2"/>
<line x1="1112.7" y1="1108" x2="1112.7" y2="1300" stroke="#00b050" stroke-width="2"/>
<polygon points="1112.7,1099.5 1124.2,1122.5 1112.7,1115.5 1101.2,1122.5" fill="#00b050"/>
<polygon points="1112.7,1311.6 1101.2,1288.6 1112.7,1295.6 1124.2,1288.6" fill="#00b050"/>
<line x1="1139" y1="1114.6" x2="1223" y2="1114.6" stroke="#00b050" stroke-width="2"/>
<line x1="1203" y1="1050" x2="1203" y2="1104" stroke="#00b050" stroke-width="2"/>
<polygon points="1203,1040.5 1214.5,1062 1203,1055.5 1191.5,1062" fill="#00b050"/>
<polygon points="1203,1114.4 1191.5,1092.9 1203,1099.4 1214.5,1092.9" fill="#00b050"/>
<line x1="1289" y1="1119" x2="1374" y2="1119" stroke="#00b050" stroke-width="2"/>
<line x1="1349.6" y1="1063" x2="1349.6" y2="1108" stroke="#00b050" stroke-width="2"/>
<polygon points="1349.6,1053.5 1361.1,1075 1349.6,1068.5 1338.1,1075" fill="#00b050"/>
<polygon points="1349.6,1119 1338.1,1097.5 1349.6,1104 1361.1,1097.5" fill="#00b050"/>
<text class="b" x="1085.5" y="1258.7" font-size="34.5">1.78</text>
<text class="b" x="1178.9" y="1091.5" font-size="28.2">0.62</text>
<text class="b" x="1324.7" y="1101.8" font-size="28.2">0.55</text>
<text class="b" x="985.9" y="1357.2" font-size="35">HL</text>
<text class="b" x="1122.6" y="1155" font-size="33.6">S<tspan font-size="22" dy="16" dx="0.5">1</tspan></text>
<text class="b" x="1264.6" y="1155" font-size="33.6">S<tspan font-size="22" dy="16" dx="0.5">2</tspan></text>
<text class="b" x="1414" y="1160" font-size="33.6">S<tspan font-size="22" dy="16" dx="0.5">3</tspan></text>
<line x1="1242.5" y1="1257" x2="1333.8" y2="1257" stroke="#0000ff" stroke-width="3.1"/>
<rect x="1281.8" y="1251.3" width="11.4" height="11.4" fill="#0000ff"/>
<line x1="1242.5" y1="1305.8" x2="1333.8" y2="1305.8" stroke="#0000ff" stroke-width="2.4" stroke-dasharray="7.5 4.5"/>
<rect x="1282.5" y="1300.8" width="10" height="10" fill="#fff" stroke="#0000ff" stroke-width="2.2"/>
<text x="1341.5" y="1270.5" font-size="40.1">Indirect</text>
<text x="1341.5" y="1318.8" font-size="40.1">Direct</text>
</g>
</svg></body></html>
